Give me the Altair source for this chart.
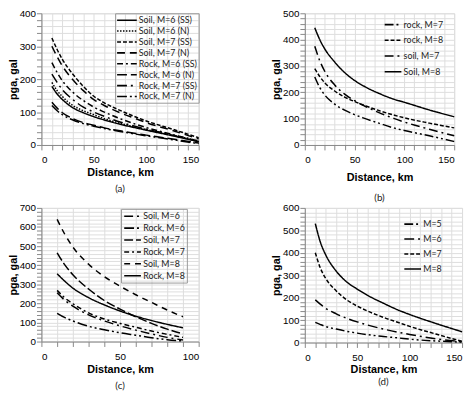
import altair as alt
import pandas as pd

FONT = "Lato"

# ---------------- Panel (a) ----------------
a_x = [10, 15, 20, 30, 40, 50, 60, 75, 90, 100, 125, 150]
a_series = ["Soil, M=6 (SS)", "Soil, M=6 (N)", "Soil, M=7 (SS)", "Soil, M=7 (N)",
            "Rock, M=6 (SS)", "Rock, M=6 (N)", "Rock, M=7 (SS)", "Rock, M=7 (N)"]
a_soil_m6_ss = [178, 155, 138, 113, 98, 86, 76, 63, 52, 45, 28, 10]
a_soil_m6_n = [190, 165, 147, 120, 104, 92, 80, 66, 54, 47, 30, 12]
a_soil_m7_ss = [325, 290, 260, 215, 178, 148, 128, 105, 85, 73, 48, 22]
a_soil_m7_n = [300, 268, 240, 198, 165, 138, 120, 98, 80, 68, 44, 18]
a_rock_m6_ss = [250, 220, 195, 160, 135, 115, 100, 80, 63, 53, 32, 12]
a_rock_m6_n = [130, 112, 98, 80, 68, 60, 52, 43, 35, 30, 18, 6]
a_rock_m7_ss = [215, 190, 168, 138, 115, 100, 87, 70, 56, 48, 30, 10]
a_rock_m7_n = [120, 104, 92, 76, 65, 57, 50, 41, 33, 28, 16, 4]
a_values = [a_soil_m6_ss, a_soil_m6_n, a_soil_m7_ss, a_soil_m7_n,
            a_rock_m6_ss, a_rock_m6_n, a_rock_m7_ss, a_rock_m7_n]
a_dashes = [[1, 0], [1.5, 1.5], [4, 2], [8, 5], [6, 3, 2, 3], [10, 4], [10, 4, 2, 4], [10, 3, 2, 3, 2, 3]]

# ---------------- Panel (b) ----------------
b_x = [10, 15, 20, 30, 40, 50, 60, 75, 90, 100, 125, 150]
b_series = ["rock, M=7", "rock, M=8", "soil, M=7", "Soil, M=8"]
b_rock_m7 = [258, 218, 190, 155, 132, 115, 101, 82, 64, 55, 35, 13]
b_rock_m8 = [290, 260, 236, 205, 182, 165, 150, 130, 113, 103, 83, 65]
b_soil_m7 = [375, 320, 280, 228, 193, 168, 148, 122, 100, 87, 60, 35]
b_soil_m8 = [445, 400, 365, 315, 275, 245, 222, 195, 173, 162, 133, 107]
b_values = [b_rock_m7, b_rock_m8, b_soil_m7, b_soil_m8]
b_dashes = [[9, 3, 2, 3, 2, 3], [4, 2], [9, 4, 2, 4], [1, 0]]

# ---------------- Panel (c) ----------------
c_x = [10, 15, 20, 30, 40, 50, 60, 70, 80, 90]
c_series = ["Soil, M=6", "Rock, M=6", "Soil, M=7", "Rock, M=7", "Soil, M=8", "Rock, M=8"]
c_soil_m6 = [255, 215, 185, 140, 108, 82, 60, 40, 22, 8]
c_rock_m6 = [148, 125, 108, 80, 62, 46, 33, 20, 10, 3]
c_soil_m7 = [465, 400, 350, 275, 215, 170, 130, 95, 65, 40]
c_rock_m7 = [268, 228, 198, 150, 118, 95, 75, 55, 38, 22]
c_soil_m8 = [640, 560, 495, 405, 340, 290, 245, 205, 165, 130]
c_rock_m8 = [355, 315, 280, 230, 192, 160, 133, 110, 90, 72]
c_values = [c_soil_m6, c_rock_m6, c_soil_m7, c_rock_m7, c_soil_m8, c_rock_m8]
c_dashes = [[9, 4, 2, 4], [10, 3, 2, 3, 2, 3], [9, 3], [5, 3, 2, 3], [6, 5], [1, 0]]

# ---------------- Panel (d) ----------------
d_x = [10, 15, 20, 30, 40, 50, 60, 75, 90, 100, 125, 150]
d_series = ["M=5", "M=6", "M=7", "M=8"]
d_m5 = [90, 80, 71, 60, 50, 42, 35, 27, 20, 15, 7, 2]
d_m6 = [190, 170, 152, 128, 108, 92, 78, 60, 45, 36, 17, 3]
d_m7 = [400, 330, 285, 230, 190, 162, 140, 112, 88, 72, 38, 5]
d_m8 = [530, 445, 390, 318, 270, 238, 210, 175, 143, 125, 85, 48]
d_values = [d_m5, d_m6, d_m7, d_m8]
d_dashes = [[9, 3, 2, 3, 2, 3], [10, 4, 2, 4], [4, 2], [1, 0]]


def long_table(xs, names, values):
    rows = []
    for name, ys in zip(names, values):
        for x, y in zip(xs, ys):
            rows.append({"x": x, "y": y, "series": name})
    return pd.DataFrame(rows)


def panel(df, order, dashes, xmax, ymax, xmajor, width, height, caption,
          lx, ly, row_pad, sym_len, boxed, leg_pad, lab_pad, tit_pad, cap_off):
    half = sym_len / 2.0
    legend = alt.Legend(
        title=None, orient="none", legendX=lx, legendY=ly,
        symbolType="M-1,0H3", symbolSize=half * half, symbolStrokeWidth=1.6,
        symbolStrokeColor="black", symbolFillColor="transparent",
        labelFont=FONT, labelFontSize=9,
        labelColor="#222", rowPadding=row_pad, labelOffset=half + 1, padding=leg_pad,
        strokeColor="#999" if boxed else "transparent",
    )
    return alt.Chart(df).mark_line(color="black", strokeWidth=1.5,
                                   interpolate="monotone").encode(
        x=alt.X("x:Q", scale=alt.Scale(domain=[0, xmax], nice=False),
                axis=alt.Axis(values=list(range(0, xmax + 1, 10)),
                              labelExpr=f"datum.value % {xmajor} === 0 ? datum.label : ''",
                              title="Distance, km", labelPadding=lab_pad, titlePadding=tit_pad)),
        y=alt.Y("y:Q", scale=alt.Scale(domain=[0, ymax], nice=False),
                axis=alt.Axis(values=list(range(0, ymax + 1, 20)),
                              labelExpr="datum.value % 100 === 0 ? datum.label : ''",
                              title="pga, gal", titlePadding=1, labelPadding=1)),
        strokeDash=alt.StrokeDash("series:N", sort=order,
                                  scale=alt.Scale(domain=order, range=dashes),
                                  legend=legend),
    ).properties(
        width=width, height=height,
        title=alt.TitleParams(text=caption, orient="bottom", font=FONT, fontSize=10,
                              fontWeight="normal", color="#222", offset=cap_off),
    )


pa = panel(long_table(a_x, a_series, a_values), a_series, a_dashes, 150, 400, 50,
           160, 134, "(a)", 75, 0, 0.1, 20, True, 1, 5, 2, 7)
pb = panel(long_table(b_x, b_series, b_values), b_series, b_dashes, 150, 500, 50,
           152, 134, "(b)", 80, 6, 5, 17, False, 0, 5, 7, 11)
pc = panel(long_table(c_x, c_series, c_values), c_series, c_dashes, 100, 700, 50,
           160, 136, "(c)", 81, 1, 1.1, 17, True, 2, 5, 2, 7)
pd_ = panel(long_table(d_x, d_series, d_values), d_series, d_dashes, 150, 600, 50,
            160, 137, "(d)", 100, 11, 4.2, 17, False, 0, 5, 2, 2)

chart = alt.concat(pa, pb, pc, pd_, columns=2, bounds="flush",
                   spacing={"row": 64, "column": 108}).resolve_scale(
    x="independent", y="independent", strokeDash="independent"
).properties(
    padding={"left": -2, "top": -4, "right": 0, "bottom": 0}
).configure_view(stroke="#999", strokeWidth=1).configure_axis(
    grid=False, domainColor="black", tickColor="black", tickSize=3,
    labelFont=FONT, labelFontSize=9, labelColor="#222",
    titleFont=FONT, titleFontSize=9, titleFontWeight="bold", titleColor="#222",
).configure(background="white")

chart.save("out.html", embed_options={"renderer": "svg", "actions": False})
